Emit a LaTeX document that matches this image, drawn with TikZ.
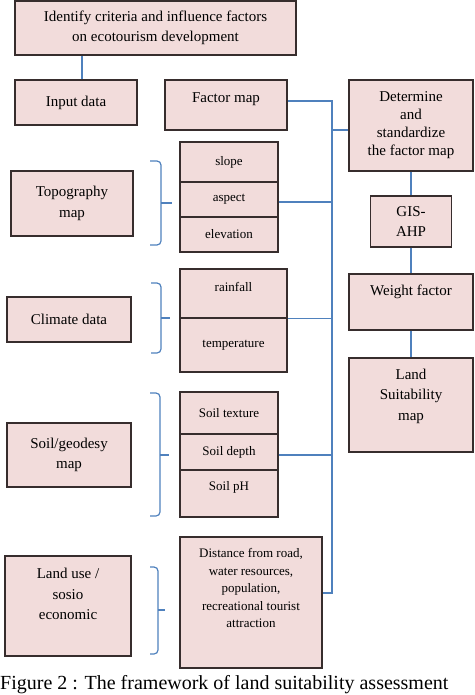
\documentclass[tikz,border=0pt]{standalone}
\usepackage{fontspec}
\setmainfont{Liberation Serif}
\usepackage{tikz}

\definecolor{boxfill}{RGB}{242,220,219}
\definecolor{boxline}{RGB}{55,45,45}
\definecolor{linkblue}{RGB}{79,129,189}

\tikzset{
  boxtext/.style={align=center, font=\fontsize{15}{20.5}\selectfont},
  celltext/.style={align=center, font=\fontsize{13}{17.5}\selectfont},
  box/.style={draw=boxline, fill=boxfill, line width=1.4pt, inner sep=2pt, boxtext},
  cell/.style={box, celltext},
  link/.style={draw=linkblue, line width=1.2pt},
  brace/.style={link, rounded corners=4pt}
}

\begin{document}
\begin{tikzpicture}[x=1pt, y=-1pt]
            \useasboundingbox (0,0) rectangle (474,695);

            % top and right column
            \node[box, minimum width=281pt, minimum height=54pt] (ident) at (155.5,28) {Identify criteria and influence factors\\on ecotourism development};
            \node[box, minimum width=122pt, minimum height=45pt] (input) at (76,102.5) {Input data};
            \node[box, minimum width=122pt, minimum height=50pt, label={[boxtext, yshift=6pt]center:Factor map}] (factor) at (226,105) {};
            \node[box, minimum width=124pt, minimum height=91pt, font=\fontsize{15}{18}\selectfont] (det) at (411,125.5) {Determine\\and\\standardize\\the factor map};
            \node[box, minimum width=81pt, minimum height=51pt] (gis) at (411,221.5) {GIS-\\AHP};
            \node[box, minimum width=124pt, minimum height=56pt, label={[boxtext, yshift=10pt]center:Weight factor}] (weight) at (411,302) {};
            \node[box, minimum width=124pt, minimum height=94pt, label={[boxtext, yshift=9pt]center:Land\\Suitability\\map}] (suit) at (411,405) {};

            % input data groups
            \node[box, minimum width=122pt, minimum height=65pt] (topo) at (72,203.5) {Topography\\map};
            \node[box, minimum width=124pt, minimum height=45pt] (climate) at (69,319.5) {Climate data};
            \node[box, minimum width=124pt, minimum height=64pt] (soil) at (69,455) {Soil/geodesy\\map};
            \node[box, minimum width=126pt, minimum height=100pt, label={[boxtext, yshift=12pt]center:Land use /\\sosio\\economic}] (landuse) at (68,606) {};

            % factors
            \node[cell, minimum width=98pt, minimum height=40pt] (slope) at (229,162) {slope};
            \node[cell, minimum width=98pt, minimum height=35pt] (aspect) at (229,199.5) {aspect};
            \node[cell, minimum width=98pt, minimum height=35pt] (elev) at (229,234.5) {elevation};

            \node[cell, minimum width=107pt, minimum height=49pt, label={[celltext, yshift=6.5pt]center:rainfall}] (rain) at (233.5,293.5) {};
            \node[cell, minimum width=107pt, minimum height=54pt] (temp) at (233.5,345) {temperature};

            \node[cell, minimum width=98pt, minimum height=42pt] (texture) at (229,413) {Soil texture};
            \node[cell, minimum width=98pt, minimum height=36pt] (depth) at (229,452) {Soil depth};
            \node[cell, minimum width=98pt, minimum height=47pt, label={[celltext, yshift=6.5pt]center:Soil pH}] (ph) at (229,493.5) {};

            \node[cell, minimum width=142pt, minimum height=131pt, label={[celltext, yshift=14.5pt]center:Distance from road,\\water resources,\\population,\\recreational tourist\\attraction}] (dist) at (251,602.5) {};

            % connectors
            \coordinate (bustop) at (332,101);
            \coordinate (busdet) at (332,130);
            \coordinate (busbot) at (332,593);

            \draw[link] ([xshift=6pt]input.north) -- ([xshift=6pt]input.north |- ident.south);
            \draw[link] (factor.east |- bustop) -- (bustop) -- (busbot) -- (dist.east |- busbot);
            \draw[link] (busdet) -- (det.west |- busdet);
            \draw[link] ([yshift=-2.5pt]aspect.east) -- ([yshift=-2.5pt]aspect.east -| bustop);
            \draw[link] ([yshift=-1pt]temp.north east) -- ([yshift=-1pt]temp.north east -| bustop);
            \draw[link] ([yshift=-3pt]depth.east) -- ([yshift=-3pt]depth.east -| bustop);

            \draw[link] (det.south) -- (gis.north);
            \draw[link] (gis.south) -- (weight.north);
            \draw[link] (weight.south) -- (suit.north);

            % braces
            \draw[brace] (150,161) -- (161,161) -- (161,245) -- (150,245);
            \draw[link] (161,203) -- (172,203);

            \draw[brace] (151,283) -- (161,283) -- (161,353) -- (151,353);
            \draw[link] (161,318) -- (170,318);

            \draw[brace] (150,393) -- (160,393) -- (160,516) -- (150,516);
            \draw[link] (160,455) -- (169,455);

            \draw[brace] (150,567) -- (158,567) -- (158,654) -- (150,654);
            \draw[link] (158,610) -- (165,610);

            \node[font=\fontsize{20}{24}\selectfont, anchor=base west, inner sep=0pt] (caption) at (0,689) {Figure 2 : The framework of land suitability assessment};
        \end{tikzpicture}
\end{document}
